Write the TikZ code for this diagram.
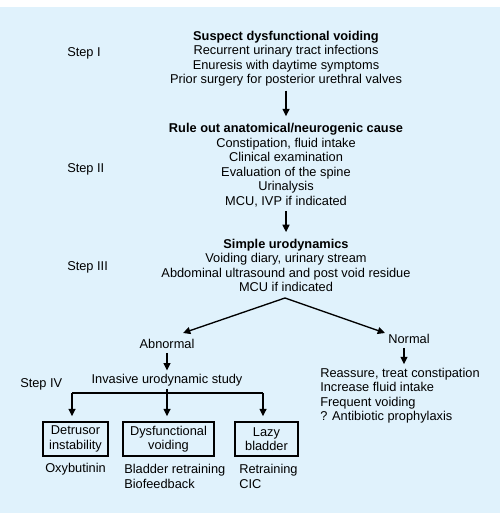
\documentclass[tikz,border=0pt]{standalone}
\usepackage{fontspec}
\setmainfont{Liberation Sans}
\usetikzlibrary{arrows.meta}
\definecolor{bg}{RGB}{224,242,252}
\begin{document}
\begin{tikzpicture}[x=0.75pt,y=-0.75pt,
  txt/.style={font=\fontsize{9.6}{10.9}\selectfont, inner sep=0pt, align=center},
  lft/.style={txt, align=left},
  ln/.style={line width=1pt},
  arr/.style={ln, -{Triangle[length=5.5pt,width=5.2pt]}},
  box/.style={txt, draw, line width=1.1pt, minimum height=25.5pt}]
\fill[white] (0,0) rectangle (500,7);
\fill[bg] (0,7) rectangle (500,513);
\useasboundingbox (0,0) rectangle (500,513);

\node[txt] (b1) at (286,58.5) {\textbf{Suspect dysfunctional voiding}\\Recurrent urinary tract infections\\Enuresis with daytime symptoms\\Prior surgery for posterior urethral valves};
\node[txt] (b2) at (286,165) {\textbf{Rule out anatomical/neurogenic cause}\\Constipation, fluid intake\\Clinical examination\\Evaluation of the spine\\Urinalysis\\MCU, IVP if indicated};
\node[txt] (b3) at (286,265.5) {\textbf{Simple urodynamics}\\Voiding diary, urinary stream\\Abdominal ultrasound and post void residue\\MCU if indicated};

\node[txt, anchor=west] (s1) at (67,53) {Step I};
\node[txt, anchor=west] (s2) at (67,169) {Step II};
\node[txt, anchor=west] (s3) at (67,267) {Step III};
\node[txt, anchor=west] (s4) at (20,384) {Step IV};

\node[txt] (abn) at (167,344) {Abnormal};
\node[txt] (nrm) at (409,339) {Normal};
\node[txt] (inv) at (167,380) {Invasive urodynamic study};
\node[lft, anchor=west] (rl) at (320,395.5) {Reassure, treat constipation\\Increase fluid intake\\Frequent voiding\\? Antibiotic prophylaxis};

\node[box, minimum width=48.75pt] (bx1) at (75.5,439) {Detrusor\\instability};
\node[box, minimum width=68.25pt] (bx2) at (168.5,439) {Dysfunctional\\voiding};
\node[box, minimum width=47.25pt] (bx3) at (266.5,439) {Lazy\\bladder};

\node[txt, anchor=west] (t1) at (45,469) {Oxybutinin};
\node[lft, anchor=west] (t2) at (124,476.5) {Bladder retraining\\Biofeedback};
\node[lft, anchor=west] (t3) at (239,476.5) {Retraining\\CIC};

\draw[arr, shorten <=3pt, shorten >=5pt] (b1.south) -- (b2.north);
\draw[arr, shorten <=3pt, shorten >=5pt] (b2.south) -- (b3.north);

\coordinate (apex) at (285,298);
\coordinate (le) at (183,333);
\coordinate (re) at (385,333);
\draw[arr] (apex) -- (le);
\draw[arr] (apex) -- (re);

\draw[arr, shorten <=3pt, shorten >=2.5pt] ([xshift=-3.75pt]nrm.south) -- ([xshift=-3.75pt]nrm.south |- rl.north);
\draw[arr, shorten <=3pt, shorten >=2.5pt] (abn.south) -- (inv.north);

\coordinate (jl) at (72,393);
\coordinate (jr) at (263,393);
\draw[ln] (jl) -- (jr);
\draw[arr, shorten >=3.75pt] (jl) -- (jl |- bx1.north);
\draw[arr, shorten >=3.75pt] (jr) -- (jr |- bx3.north);
\draw[arr, shorten <=2pt, shorten >=3.75pt] (inv.south) -- (inv.south |- bx2.north);
\end{tikzpicture}
\end{document}
